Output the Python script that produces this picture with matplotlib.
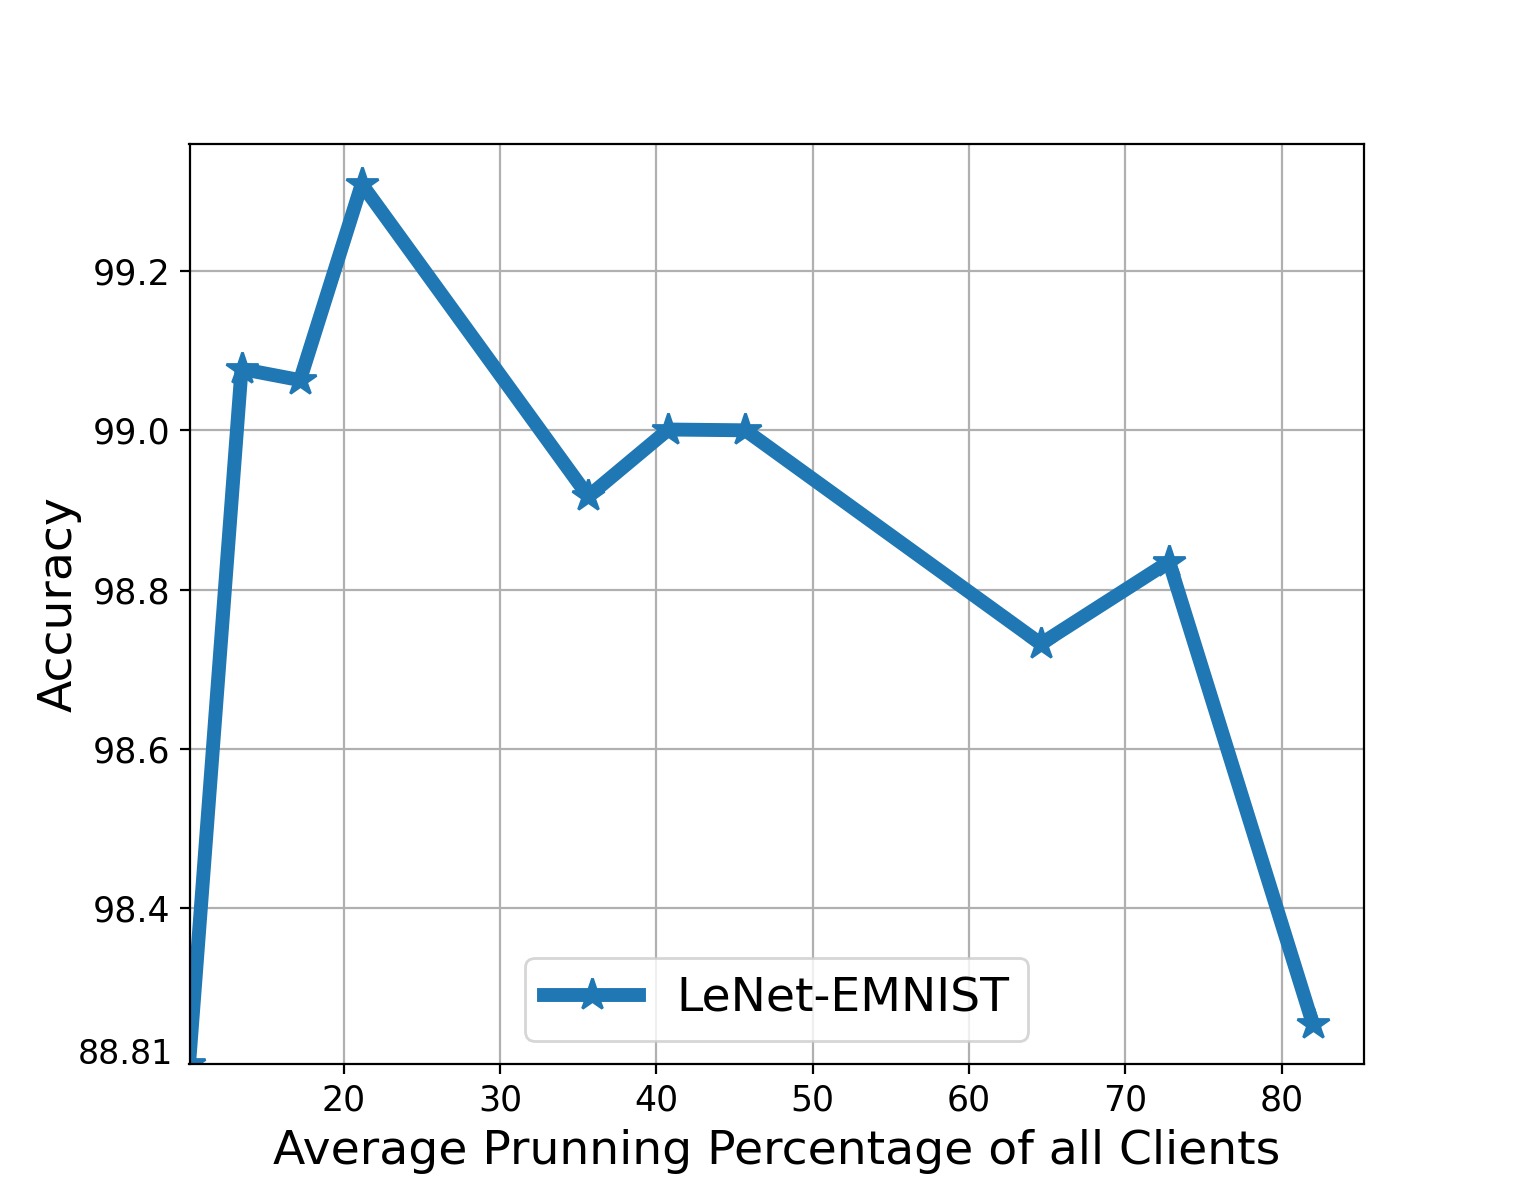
import matplotlib
matplotlib.use("Agg")
import matplotlib.pyplot as plt

# average pruning percentage vs accuracy
prune_pct = [10.1, 13.46, 17.2, 21.15, 35.64, 40.77, 45.7, 64.6, 72.8, 82.0]
accuracy = [98.204, 99.077, 99.063, 99.309, 98.917, 99.001, 99.000, 98.732, 98.835, 98.255]
y_ticks = [98.4, 98.6, 98.8, 99.0, 99.2]
x_ticks = [20, 30, 40, 50, 60, 70, 80]

fig, ax = plt.subplots(figsize=(7.58, 5.98), dpi=200)
ax.plot(prune_pct, accuracy, marker="*", color="#1f77b4", linewidth=5,
        markersize=12, label="LeNet-EMNIST")
ax.set_xlim(10.13, 85.3)
ax.set_ylim(98.204, 99.36)
ax.set_xticks(x_ticks)
ax.set_yticks(y_ticks)
ax.tick_params(labelsize=12.5)
ax.grid(True)
ax.set_xlabel("Average Prunning Percentage of all Clients", fontsize=17)
ax.set_ylabel("Accuracy", fontsize=17)
ax.legend(loc="lower center", fontsize=17)
# odd label pasted at the bottom-left corner
ax.text(-0.014, 0.0, "88.81", transform=ax.transAxes, ha="right", va="baseline",
        fontsize=12)

fig.savefig("out.png", dpi=200)
